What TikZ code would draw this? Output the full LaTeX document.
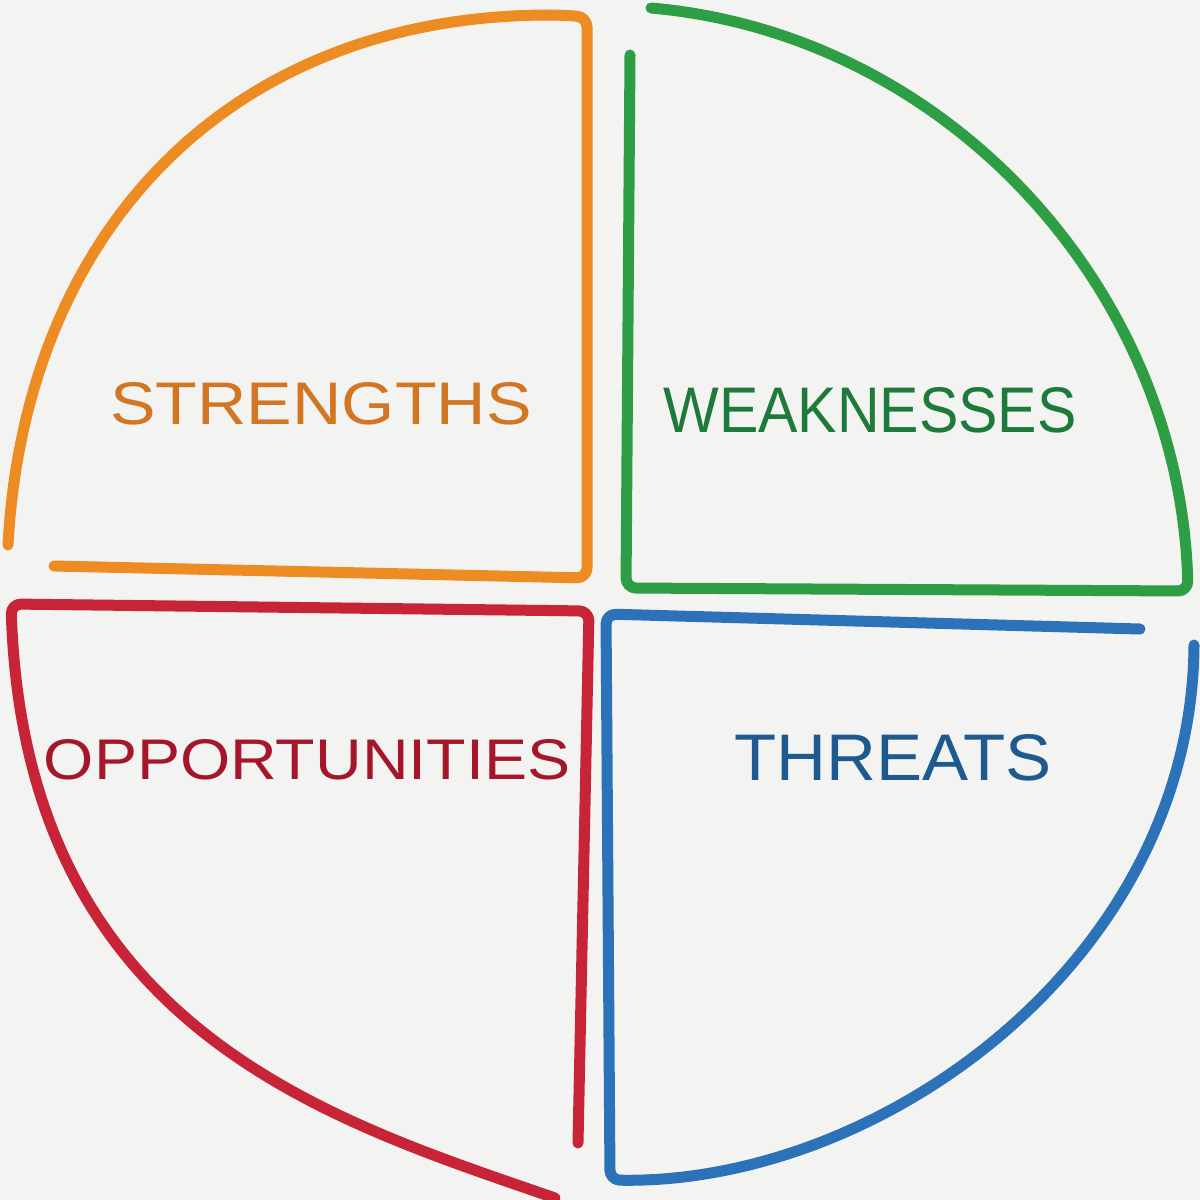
\documentclass[tikz,border=0pt]{standalone}
\usepackage{fontspec}
\setmainfont{Liberation Sans}
\usepackage{graphicx}
\definecolor{bg}{RGB}{243,243,241}
\definecolor{cOr}{RGB}{238,140,36}
\definecolor{cGr}{RGB}{46,158,68}
\definecolor{cRd}{RGB}{200,36,56}
\definecolor{cBl}{RGB}{44,114,184}
\definecolor{tOr}{RGB}{210,118,36}
\definecolor{tGr}{RGB}{30,122,58}
\definecolor{tRd}{RGB}{165,22,42}
\definecolor{tBl}{RGB}{30,90,144}
\begin{document}
\begin{tikzpicture}[x=0.01cm,y=-0.01cm,line cap=round,line join=round,
  quad/.style={line width=0.11cm,rounded corners=0.1cm},
  lbl/.style={inner sep=0pt,anchor=center}]
\fill[bg] (0,0) rectangle (1200,1200);
\useasboundingbox (0,0) rectangle (1200,1200);
% Strengths quadrant
\draw[quad,cOr] (8,545) .. controls (25,230) and (230,15) .. (560,15) -- (587,17) -- (587,578) -- (54,566);
% Weaknesses quadrant
\draw[quad,cGr] (630,55) -- (626,588) -- (1188,591) .. controls (1180,290) and (948,34) .. (651,8);
% Opportunities quadrant
\draw[quad,cRd] (578,1143) -- (589,611) -- (11,604) .. controls (25,1030) and (330,1120) .. (555,1198);
% Threats quadrant
\draw[quad,cBl] (1140,629) -- (606,614) -- (610,1180) .. controls (880,1185) and (1192,960) .. (1194,645);
% labels
\node[lbl,text=tOr] (strengths) at (321,404) {\resizebox{4.21cm}{0.42cm}{STRENGTHS}};
\node[lbl,text=tGr] (weaknesses) at (870,410) {\resizebox{4.13cm}{0.45cm}{WEAKNESSES}};
\node[lbl,text=tRd] (opportunities) at (307,760) {\resizebox{5.26cm}{0.40cm}{OPPORTUNITIES}};
\node[lbl,text=tBl] (threats) at (893,758) {\resizebox{3.17cm}{0.46cm}{THREATS}};
\end{tikzpicture}
\end{document}
